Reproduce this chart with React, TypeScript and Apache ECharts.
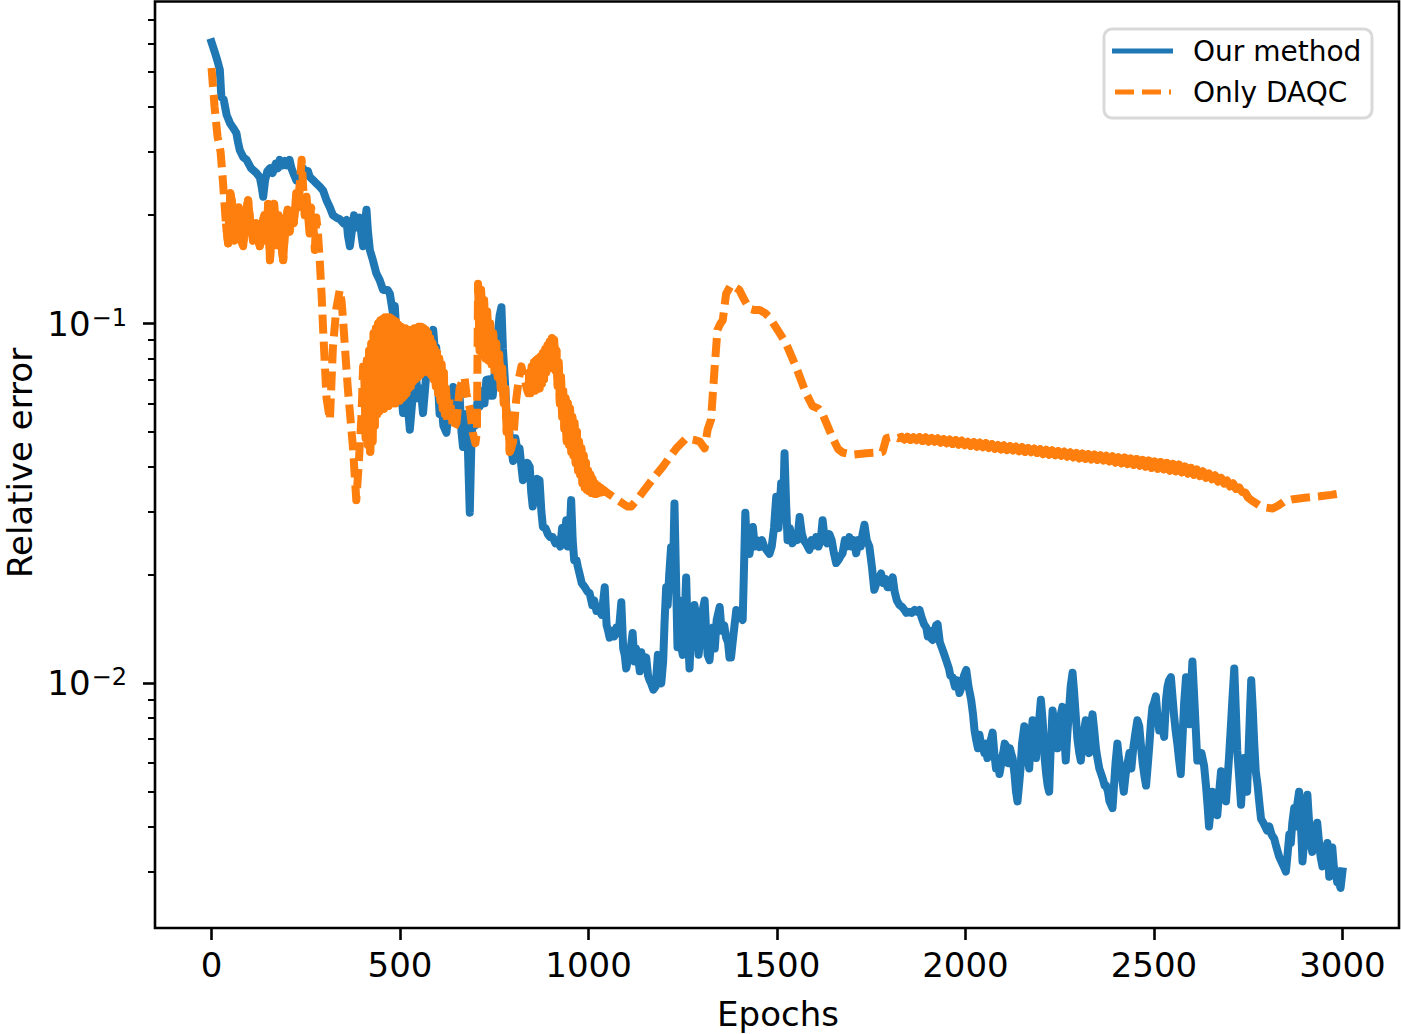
import React, { useEffect, useRef } from "react";
import * as echarts from "echarts";

// ---------- data (epoch, relative error) ----------
const ourMethod: [number, number][] = [
  [0,0.605],[8,0.57],[15,0.54],[22,0.507],[26,0.426],[32,0.42],[40,0.38],[49,0.36],[57,0.35],[66,0.338],[70,0.32],[75,0.303],[84,0.29],[93,0.285],[105,0.27],[119,0.262],[128,0.255],[133,0.24],[137,0.225],[142,0.25],[148,0.265],[155,0.27],[162,0.262],[170,0.278],[176,0.27],[181,0.285],[188,0.275],[195,0.283],[200,0.275],[207,0.285],[212,0.27],[218,0.26],[225,0.25],[232,0.258],[238,0.262],[243,0.27],[250,0.26],[256,0.265],[260,0.256],[270,0.25],[278,0.245],[287,0.24],[296,0.234],[305,0.22],[314,0.21],[322,0.2],[331,0.197],[340,0.195],[350,0.19],[358,0.194],[362,0.175],[367,0.164],[372,0.18],[378,0.2],[385,0.185],[393,0.197],[398,0.175],[402,0.164],[407,0.19],[411,0.207],[415,0.18],[420,0.16],[428,0.15],[437,0.138],[446,0.132],[455,0.124],[467,0.124],[473,0.121],[481,0.107],[486,0.112],[490,0.096],
  [495,0.085],[500,0.07],[508,0.0564],[514,0.065],[520,0.06],[526,0.0507],[532,0.06],[538,0.065],[543,0.0697],[548,0.062],[555,0.066],[561,0.0564],[566,0.065],[570,0.073],[575,0.08],[580,0.09],[585,0.093],[588,0.096],[592,0.085],[596,0.086],[600,0.07],[605,0.056],[610,0.06],[615,0.052],[623,0.0497],[630,0.058],[636,0.062],[641,0.0666],[646,0.055],[650,0.056],[654,0.062],[658,0.063],[663,0.05],[667,0.0454],[672,0.056],[676,0.056],[680,0.045],[685,0.0298],[689,0.045],[693,0.056],[700,0.052],[705,0.06],[711,0.0587],[718,0.065],[724,0.06],[729,0.0697],[735,0.07],[740,0.063],[746,0.063],[752,0.075],[758,0.09],[764,0.105],[769,0.111],[773,0.085],[778,0.07],[782,0.058],[790,0.05],[795,0.045],[800,0.0415],[806,0.048],[812,0.044],[817,0.045],[822,0.04],[826,0.0367],[832,0.038],[838,0.041],[844,0.04],[848,0.034],[852,0.031],[858,0.034],[864,0.037],[870,0.0367],[875,0.03],[879,0.0272],[886,0.027],[892,0.026],[898,0.0255],[905,0.0255],[912,0.0245],[918,0.025],[925,0.024],[930,0.027],[936,0.025],[941,0.0284],[945,0.024],[950,0.026],[954,0.0323],[958,0.025],[962,0.022],[968,0.022],[972,0.021],[976,0.0202],[982,0.019],[990,0.0185],[997,0.018],
  [1003,0.0178],[1010,0.0165],[1015,0.017],[1021,0.0159],[1028,0.016],[1035,0.0155],[1043,0.0185],[1048,0.0145],[1052,0.014],[1056,0.0134],[1062,0.014],[1068,0.0135],[1074,0.0143],[1080,0.0138],[1087,0.0168],[1092,0.0125],[1096,0.012],[1100,0.011],[1106,0.0118],[1112,0.0125],[1117,0.0138],[1122,0.0115],[1126,0.0125],[1131,0.012],[1136,0.0108],[1140,0.0122],[1145,0.0112],[1149,0.0115],[1153,0.0118],[1158,0.0105],[1162,0.0102],[1166,0.01],[1172,0.0096],[1178,0.0098],[1184,0.012],[1188,0.0105],[1193,0.01],[1198,0.0115],[1202,0.015],[1206,0.0185],[1210,0.0165],[1214,0.02],[1219,0.0239],[1224,0.02],[1228,0.0316],[1232,0.02],[1236,0.0126],[1240,0.017],[1244,0.013],[1250,0.012],[1255,0.015],[1259,0.0197],[1263,0.014],[1268,0.011],[1272,0.014],[1276,0.013],[1281,0.0165],[1286,0.0153],[1292,0.012],[1298,0.014],[1303,0.016],[1308,0.017],[1312,0.014],[1316,0.012],[1321,0.0116],[1325,0.013],[1330,0.0143],[1335,0.0125],[1340,0.015],[1348,0.0163],[1353,0.014],[1360,0.0145],[1365,0.0134],[1370,0.013],[1374,0.0118],[1378,0.0118],[1384,0.0135],[1392,0.016],[1400,0.0155],[1409,0.015],[1412,0.02],[1416,0.0298],[1420,0.024],[1427,0.0229],[1432,0.025],[1436,0.0272],[1441,0.024],[1446,0.025],[1454,0.0239],[1460,0.025],[1466,0.024],[1472,0.0235],[1480,0.0229],[1486,0.024],[1492,0.027],[1498,0.033],
  [1504,0.027],[1511,0.036],[1516,0.03],[1520,0.0436],[1524,0.032],[1528,0.025],[1534,0.027],[1541,0.0245],[1547,0.026],[1554,0.025],[1560,0.029],[1566,0.026],[1571,0.025],[1577,0.0245],[1586,0.0235],[1592,0.025],[1598,0.0242],[1604,0.0255],[1610,0.024],[1616,0.025],[1621,0.0284],[1627,0.025],[1633,0.0245],[1639,0.026],[1645,0.025],[1651,0.023],[1657,0.0216],[1663,0.022],[1668,0.0225],[1674,0.023],[1680,0.025],[1686,0.024],[1692,0.0255],[1698,0.024],[1704,0.025],[1710,0.023],[1716,0.025],[1722,0.024],[1727,0.026],[1732,0.0276],[1738,0.025],[1745,0.024],[1752,0.021],[1758,0.0182],[1764,0.019],[1770,0.0195],[1776,0.0202],[1782,0.019],[1788,0.0195],[1793,0.0185],[1798,0.0185],[1803,0.019],[1807,0.0197],[1812,0.018],[1818,0.017],[1825,0.0165],[1832,0.0163],[1838,0.016],[1843,0.0157],[1850,0.0158],[1858,0.0157],[1865,0.016],[1872,0.0158],[1878,0.016],[1884,0.0152],[1890,0.0146],[1896,0.0143],[1900,0.0135],[1905,0.014],[1910,0.0133],[1913,0.0132],[1918,0.014],[1922,0.0145],[1926,0.0146],[1932,0.013],[1938,0.0125],[1944,0.012],[1950,0.0115],[1956,0.011],[1960,0.0105],[1966,0.0104],[1972,0.0098],[1978,0.0102],[1984,0.0094],[1990,0.0098],[1996,0.0105],
  [2002,0.0109],[2008,0.0098],[2015,0.009],[2020,0.0082],[2024,0.0074],[2028,0.007],[2033,0.0066],[2037,0.0072],[2041,0.0068],[2045,0.0067],[2050,0.0064],[2054,0.0068],[2058,0.0062],[2063,0.0067],[2068,0.007],[2072,0.0073],[2077,0.0063],[2081,0.0058],[2086,0.0062],[2090,0.0056],[2095,0.006],[2100,0.0064],[2104,0.0068],[2108,0.0067],[2113,0.006],[2118,0.0066],[2121,0.0064],[2125,0.0062],[2130,0.0056],[2134,0.005],[2138,0.0047],[2142,0.0052],[2146,0.0058],[2150,0.0068],[2156,0.0076],[2160,0.0068],[2164,0.0063],[2169,0.0058],[2173,0.0068],[2178,0.0079],[2183,0.0072],[2187,0.0062],[2192,0.0072],[2196,0.008],[2200,0.009],[2205,0.0078],[2210,0.0062],[2214,0.0056],[2218,0.0052],[2222,0.005],[2226,0.0066],[2231,0.0084],[2235,0.0078],[2240,0.0073],[2244,0.0066],[2248,0.0078],[2253,0.0082],[2257,0.0086],[2262,0.0072],[2266,0.0061],[2270,0.0072],[2275,0.0085],[2279,0.0098],[2284,0.0107],[2288,0.0095],[2293,0.008],[2297,0.007],[2302,0.0064],[2306,0.0061],[2310,0.0068],[2315,0.0074],[2319,0.0079],[2323,0.007],[2328,0.0064],[2332,0.0075],[2337,0.0082],[2341,0.0075],[2346,0.0066],[2350,0.0062],[2355,0.0058],[2360,0.0056],[2365,0.0054],[2369,0.0052],[2373,0.0052],[2378,0.005],[2382,0.0047],[2386,0.0046],[2390,0.0045],[2394,0.0052],[2398,0.006],[2403,0.0068],[2407,0.0062],[2411,0.0058],[2416,0.0054],[2420,0.005],[2425,0.0056],[2430,0.006],[2435,0.0064],[2440,0.0058],[2445,0.0066],[2450,0.0072],[2456,0.0079],[2461,0.0076],[2465,0.0068],[2470,0.006],[2475,0.0055],[2479,0.0052],[2484,0.006],[2488,0.0068],[2492,0.0078],[2496,0.0086],
  [2500,0.0088],[2505,0.0092],[2510,0.008],[2514,0.0074],[2518,0.008],[2522,0.0076],[2527,0.0071],[2532,0.009],[2536,0.0098],[2540,0.0102],[2545,0.0104],[2549,0.0092],[2553,0.0082],[2558,0.0073],[2562,0.0068],[2566,0.0062],[2571,0.0056],[2575,0.0068],[2580,0.0088],[2585,0.0104],[2589,0.009],[2594,0.0077],[2598,0.0095],[2602,0.0115],[2606,0.0095],[2610,0.0078],[2615,0.0061],[2620,0.0061],[2626,0.0064],[2633,0.0059],[2638,0.0052],[2642,0.0046],[2646,0.004],[2650,0.0044],[2655,0.005],[2660,0.0048],[2664,0.0046],[2668,0.0043],[2673,0.005],[2678,0.0057],[2682,0.0052],[2686,0.005],[2691,0.0047],[2695,0.0054],[2699,0.0062],[2704,0.0076],[2708,0.009],[2713,0.011],[2717,0.0085],[2721,0.0065],[2726,0.0055],[2731,0.0046],[2735,0.0055],[2739,0.0062],[2743,0.0056],[2747,0.005],[2751,0.0065],[2755,0.0085],[2758,0.0102],[2762,0.0085],[2766,0.0068],[2770,0.0057],[2775,0.0052],[2780,0.0046],[2784,0.0042],[2790,0.0041],[2795,0.004],[2800,0.0039],[2806,0.004],[2812,0.0038],[2819,0.0037],[2825,0.0035],[2832,0.0033],[2838,0.0032],[2844,0.0031],[2850,0.003],[2855,0.0034],[2859,0.0038],[2863,0.0036],[2867,0.0041],[2872,0.0045],[2876,0.004],[2880,0.0046],[2885,0.005],[2890,0.004],[2894,0.0032],[2898,0.0036],[2902,0.0042],[2907,0.0049],[2911,0.0042],[2915,0.0036],[2920,0.0034],[2924,0.0038],[2928,0.0036],[2933,0.0041],[2937,0.0037],[2942,0.0033],[2947,0.0031],[2951,0.0033],[2955,0.0034],[2960,0.0036],[2965,0.0029],[2969,0.0032],[2973,0.0035],[2977,0.0031],[2982,0.003],[2986,0.0028],[2990,0.0028],[2995,0.0027],[3000,0.003],
];

const onlyDAQC: [number, number][] = [
  [0,0.513],[8,0.4],[16,0.33],[24,0.3],[30,0.25],[38,0.19],[44,0.167],[50,0.23],[55,0.215],[60,0.17],[66,0.18],[72,0.21],[78,0.17],[84,0.164],[90,0.2],[97,0.22],[104,0.185],[110,0.17],[118,0.19],[122,0.175],[128,0.164],[135,0.19],[140,0.2],[145,0.17],[150,0.215],[155,0.15],[160,0.19],[166,0.215],[172,0.165],[178,0.2],[184,0.17],[190,0.15],[196,0.19],[202,0.207],[207,0.18],[212,0.2],[218,0.19],[225,0.23],[230,0.21],[235,0.25],[239,0.285],[243,0.24],[247,0.2],[252,0.225],[256,0.2],[260,0.178],[264,0.21],[269,0.197],[274,0.16],[278,0.197],[282,0.18],[287,0.15],[292,0.12],[296,0.096],[305,0.062],[314,0.054],[322,0.086],[331,0.11],[340,0.124],[345,0.115],[349,0.102],[361,0.067],[375,0.0454],[384,0.0323],[390,0.04],[398,0.056],[402,0.076],
  [406,0.07],[409,0.048],[412,0.079],[415,0.046],[418,0.084],[421,0.044],[424,0.088],[427,0.047],[430,0.094],[433,0.052],[436,0.097],[439,0.056],[442,0.1],[445,0.057],[448,0.102],[451,0.058],[454,0.103],[457,0.058],[460,0.104],[463,0.059],[466,0.104],[469,0.059],[472,0.104],[475,0.06],[478,0.103],[481,0.06],[484,0.102],[487,0.06],[490,0.101],[493,0.061],[496,0.099],[499,0.061],[502,0.098],[505,0.062],[508,0.097],[511,0.063],[514,0.097],[517,0.064],[520,0.096],[523,0.066],[526,0.096],[529,0.067],[532,0.096],[535,0.069],[538,0.097],[541,0.07],[544,0.097],[547,0.071],[550,0.098],[553,0.072],[556,0.098],[559,0.073],[562,0.097],[565,0.074],[568,0.096],[571,0.074],[574,0.094],[577,0.073],[580,0.091],[583,0.072],[586,0.088],[589,0.07],[592,0.085],[595,0.067],[598,0.083],[601,0.064],[604,0.08],[607,0.061],[610,0.077],[613,0.058],[616,0.073],[619,0.056],[622,0.066],[625,0.054],
  [632,0.062],[641,0.0507],[650,0.053],[658,0.066],[667,0.07],[671,0.071],[676,0.064],[685,0.058],[693,0.0497],[700,0.0465],[704,0.05],
  [707,0.129],[711,0.084],[715,0.124],[719,0.082],[723,0.116],[727,0.08],[731,0.108],[735,0.079],[739,0.1],[743,0.077],[747,0.094],[751,0.074],[755,0.088],[759,0.071],[763,0.082],[767,0.066],[771,0.075],[775,0.06],[779,0.066],[783,0.05],[787,0.056],[791,0.044],[795,0.045],
  [800,0.047],[808,0.0613],[815,0.07],[822,0.076],[827,0.072],[831,0.07],[836,0.066],
  [840,0.064],[843,0.073],[846,0.064],[849,0.076],[852,0.065],[855,0.078],[858,0.065],[861,0.079],[864,0.066],[867,0.08],[870,0.066],[873,0.081],[876,0.068],[879,0.083],[882,0.07],[885,0.085],[888,0.073],[891,0.087],[894,0.075],[897,0.089],[900,0.078],[903,0.091],[906,0.079],[909,0.09],[912,0.074],[915,0.084],[918,0.067],[921,0.078],[924,0.06],[927,0.071],[930,0.055],[933,0.065],[936,0.051],[939,0.062],[942,0.047],[945,0.06],[948,0.046],[951,0.058],[954,0.044],[957,0.055],[960,0.043],[963,0.053],[966,0.041],[969,0.05],[972,0.039],[975,0.047],[978,0.038],[981,0.045],[984,0.036],[987,0.043],[990,0.035],[993,0.041],[996,0.0345],[999,0.039],[1002,0.0342],[1005,0.038],[1008,0.0338],[1011,0.037],[1014,0.0337],[1017,0.036],[1020,0.0336],[1024,0.0355],[1028,0.0338],[1032,0.035],[1036,0.034],[1040,0.0345],
  [1047,0.034],[1070,0.0327],[1091,0.0316],[1104,0.031],[1113,0.031],[1130,0.0325],[1153,0.035],[1175,0.0375],[1197,0.04],[1215,0.0425],[1233,0.045],[1259,0.048],[1280,0.0475],[1295,0.047],[1308,0.045],[1316,0.0507],[1325,0.054],[1334,0.074],[1342,0.096],[1350,0.1],[1356,0.102],[1365,0.121],[1378,0.128],[1390,0.126],[1400,0.124],[1414,0.116],[1427,0.11],[1440,0.109],[1454,0.109],[1468,0.107],[1480,0.104],[1507,0.094],[1524,0.088],[1550,0.076],[1577,0.064],[1594,0.059],[1610,0.058],[1621,0.056],[1648,0.048],[1662,0.0448],[1674,0.0438],[1700,0.0432],[1737,0.0436],[1772,0.0438],[1780,0.044],[1790,0.048],[1810,0.0485],[1822,0.048],
  [1830,0.0484],[1838,0.0476],[1846,0.0484],[1854,0.0475],[1862,0.0483],[1870,0.0474],[1878,0.0483],[1886,0.0472],[1894,0.0482],[1902,0.047],[1910,0.0481],[1918,0.0469],[1926,0.0479],[1934,0.0467],[1942,0.0477],[1950,0.0465],[1958,0.0476],[1966,0.0463],[1974,0.0474],[1982,0.0461],[1990,0.0472],[1998,0.0459],[2006,0.0469],[2014,0.0457],[2022,0.0468],[2030,0.0455],[2038,0.0466],[2046,0.0453],[2054,0.0465],[2062,0.0451],[2070,0.0462],[2078,0.0449],[2086,0.046],[2094,0.0447],[2102,0.0458],[2110,0.0445],[2118,0.0456],[2126,0.0444],[2134,0.0455],[2142,0.0442],[2150,0.0453],[2158,0.044],[2166,0.0451],[2174,0.0439],[2182,0.0449],[2190,0.0437],[2198,0.0447],[2206,0.0434],[2214,0.0446],[2222,0.0432],[2230,0.0444],[2238,0.0431],[2246,0.0442],[2254,0.0429],[2262,0.044],[2270,0.0427],[2278,0.0438],[2286,0.0425],[2294,0.0437],[2302,0.0422],[2310,0.0435],[2318,0.0421],[2326,0.0433],[2334,0.0419],[2342,0.0432],[2350,0.0418],[2358,0.043],[2366,0.0416],[2374,0.0429],[2382,0.0414],[2390,0.0427],[2398,0.0411],[2406,0.0425],[2414,0.0409],[2422,0.0424],[2430,0.0407],[2438,0.0422],[2446,0.0405],[2454,0.042],[2462,0.0403],[2470,0.0418],[2478,0.04],[2486,0.0416],[2494,0.0397],[2502,0.0414],[2510,0.0395],[2518,0.0412],[2526,0.0393],[2534,0.041],[2542,0.039],[2550,0.0407],[2558,0.0388],[2566,0.0405],[2574,0.0386],[2582,0.0401],[2590,0.0383],[2598,0.0397],[2606,0.038],[2614,0.0393],[2622,0.0377],[2630,0.0388],[2638,0.0373],[2646,0.0383],[2654,0.0369],[2662,0.0378],[2670,0.0364],[2678,0.0372],[2686,0.0359],[2694,0.0366],[2702,0.0353],[2710,0.0359],[2718,0.0347],[2726,0.035],[2734,0.034],[2742,0.0339],[2750,0.0328],
  [2760,0.0322],[2780,0.0312],[2797,0.0308],[2815,0.0306],[2830,0.0312],[2845,0.032],[2870,0.0325],[2900,0.0328],[2940,0.0331],[2970,0.0334],[3000,0.0338],
];

// epoch ranges where the dashed "Only DAQC" curve oscillates so densely that it reads as solid
const denseRanges: [number, number][] = [[38, 236], [406, 625], [707, 795], [840, 1040], [1822, 2750]];

const seriesNames = ["Our method", "Only DAQC"];
const xTicks = [0, 500, 1000, 1500, 2000, 2500, 3000];
const yMajorTicks = [0.01, 0.1];
const yMinorTicks = [
  0.003, 0.004, 0.005, 0.006, 0.007, 0.008, 0.009,
  0.02, 0.03, 0.04, 0.05, 0.06, 0.07, 0.08, 0.09,
  0.2, 0.3, 0.4, 0.5, 0.6, 0.7,
];
const xRange = [-150, 3150];
const yRange = [0.00209, 0.785];

const FONT = "DejaVu Sans";
const BLUE = "#1f77b4";
const ORANGE = "#ff7f0e";
const LINE_W = 5;
const SERIES_W = 8;
const DASH = [19, 8];

export default function App() {
  const ref = useRef<HTMLDivElement>(null);
  useEffect(() => {
    document.body.style.margin = "0";
    if (!ref.current) return;
    const chart = echarts.init(ref.current, undefined, { renderer: "svg" });
    const lg = (v: number) => Math.log10(v);
    const yMin = lg(yRange[0]);
    const yMax = lg(yRange[1]);
    const inDense = (e: number) => denseRanges.some(([a, b]) => e >= a && e <= b);
    const baseY = {
      type: "value" as const,
      min: yMin,
      max: yMax,
      position: "left" as const,
      offset: 0,
      axisLine: { show: false, onZero: false },
      splitLine: { show: false },
    };
    chart.setOption({
      animation: false,
      grid: {
        left: 155,
        top: 1.5,
        width: 1244,
        height: 926.5,
        show: true,
        borderColor: "#000",
        borderWidth: 2.6,
        backgroundColor: "transparent",
        containLabel: false,
      },
      xAxis: {
        type: "value",
        min: xRange[0],
        max: xRange[1],
        axisLine: { show: false, onZero: false },
        splitLine: { show: false },
        axisTick: {
          show: true,
          customValues: xTicks,
          length: 12,
          lineStyle: { color: "#000", width: 2.6 },
        },
        axisLabel: {
          customValues: xTicks,
          formatter: (v: number) => String(v),
          fontFamily: FONT,
          fontSize: 34,
          color: "#000",
          margin: 20,
        },
      },
      yAxis: [
        {
          ...baseY,
          axisTick: {
            show: true,
            customValues: yMajorTicks.map(lg),
            length: 12,
            lineStyle: { color: "#000", width: 2.6 },
          },
          axisLabel: {
            customValues: yMajorTicks.map(lg),
            margin: 28,
            formatter: (v: number) => `{b|10}{s|\u2212${Math.round(-v)}}`,
            rich: {
              b: { fontFamily: FONT, fontSize: 34, color: "#000" },
              s: { fontFamily: FONT, fontSize: 24, color: "#000", verticalAlign: "top", padding: [0, 0, 12, 1] },
            },
          },
        },
        {
          ...baseY,
          axisTick: {
            show: true,
            customValues: yMinorTicks.map(lg),
            length: 7,
            lineStyle: { color: "#000", width: 2 },
          },
          axisLabel: { show: false },
        },
      ],
      series: [
        {
          name: seriesNames[0],
          type: "line",
          symbol: "none",
          showSymbol: false,
          yAxisIndex: 0,
          emphasis: { disabled: true },
          data: ourMethod.map(([e, v]) => [e, lg(v)]),
          lineStyle: { color: BLUE, width: SERIES_W, join: "round", cap: "square" },
          itemStyle: { color: BLUE },
        },
        {
          name: seriesNames[1],
          type: "line",
          symbol: "none",
          showSymbol: false,
          yAxisIndex: 0,
          emphasis: { disabled: true },
          data: onlyDAQC.map(([e, v]) => [e, lg(v)]),
          lineStyle: { color: ORANGE, width: SERIES_W, type: DASH, join: "round", cap: "butt" },
          itemStyle: { color: ORANGE },
        },
        {
          name: seriesNames[1],
          type: "line",
          symbol: "none",
          showSymbol: false,
          yAxisIndex: 0,
          connectNulls: false,
          emphasis: { disabled: true },
          data: onlyDAQC.map(([e, v]) => [e, inDense(e) ? lg(v) : null]),
          lineStyle: { color: ORANGE, width: SERIES_W, type: "solid", join: "round", cap: "butt" },
          itemStyle: { color: ORANGE },
        },
      ],
      graphic: [
        {
          type: "text",
          x: 20,
          y: 463,
          rotation: Math.PI / 2,
          style: {
            text: "Relative error",
            fontFamily: FONT,
            fontSize: 34,
            fill: "#000",
            textAlign: "center",
            textVerticalAlign: "middle",
          },
        },
        {
          type: "text",
          x: 778,
          y: 1014,
          style: {
            text: "Epochs",
            fontFamily: FONT,
            fontSize: 34,
            fill: "#000",
            textAlign: "center",
            textVerticalAlign: "middle",
          },
        },
        {
          type: "group",
          z: 100,
          children: [
            {
              type: "rect",
              shape: { x: 1104, y: 29, width: 268, height: 89, r: 8 },
              style: { fill: "#fff", stroke: "#d9d9d9", lineWidth: 3 },
            },
            {
              type: "line",
              shape: { x1: 1114.5, y1: 51, x2: 1170.5, y2: 51 },
              style: { stroke: BLUE, lineWidth: LINE_W, lineCap: "square" },
            },
            {
              type: "line",
              shape: { x1: 1115, y1: 92, x2: 1171, y2: 92 },
              style: { stroke: ORANGE, lineWidth: LINE_W, lineDash: DASH, lineCap: "butt" },
            },
            {
              type: "text",
              x: 1193,
              y: 51,
              style: { text: seriesNames[0], fontFamily: FONT, fontSize: 28, fill: "#000", textVerticalAlign: "middle" },
            },
            {
              type: "text",
              x: 1193,
              y: 92,
              style: { text: seriesNames[1], fontFamily: FONT, fontSize: 28, fill: "#000", textVerticalAlign: "middle" },
            },
          ],
        },
      ],
    });
    return () => chart.dispose();
  }, []);
  return <div ref={ref} style={{ width: 1401, height: 1034 }} />;
}
